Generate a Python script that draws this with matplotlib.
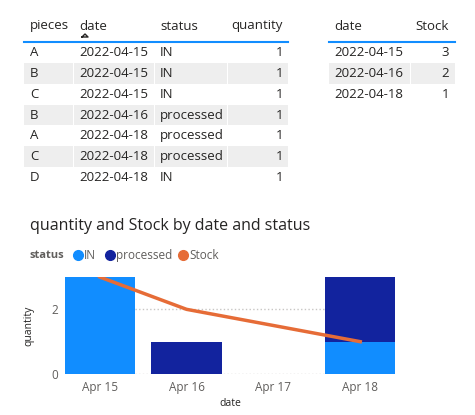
import matplotlib
matplotlib.use("Agg")
import matplotlib.pyplot as plt
from matplotlib.patches import Rectangle

plt.rcParams['font.family'] = ['Open Sans', 'DejaVu Sans']

pieces = ["A", "B", "C", "B", "A", "C", "D"]
dates = ["2022-04-15", "2022-04-15", "2022-04-15", "2022-04-16", "2022-04-18", "2022-04-18", "2022-04-18"]
statuses = ["IN", "IN", "IN", "processed", "processed", "processed", "IN"]
quantities = [1, 1, 1, 1, 1, 1, 1]

stock_dates = ["2022-04-15", "2022-04-16", "2022-04-18"]
stock_values = [3, 2, 1]

day_labels = ["Apr 15", "Apr 16", "Apr 17", "Apr 18"]
in_values = [3, 0, 0, 1]
processed_values = [0, 1, 0, 2]
stock_x = [0, 1, 3]

W, H = 475, 415
fig = plt.figure(figsize=(4.75, 4.15), dpi=100)
ov = fig.add_axes([0, 0, 1, 1])
ov.set_xlim(0, W); ov.set_ylim(H, 0); ov.axis('off')

txt = '#252423'
fs = 9.5
# table 1
ov.text(30, 26, "pieces", fontsize=fs, color=txt, va='center')
ov.text(79, 26, "date", fontsize=fs, color=txt, va='center')
ov.text(160, 26, "status", fontsize=fs, color=txt, va='center')
ov.text(283, 26, "quantity", fontsize=fs, color=txt, va='center', ha='right')
ov.plot([82, 88, 85, 82], [37, 37, 34, 37], color='#252423', lw=1)
ov.plot([24, 288], [42, 42], color='#118DFF', lw=1.5)
row_h = 20.7
for i, (p, d, s, q) in enumerate(zip(pieces, dates, statuses, quantities)):
    yc = 53 + i * row_h
    if i % 2 == 1:
        ov.add_patch(Rectangle((24, yc - row_h / 2), 264, row_h, color='#EEEEEE', lw=0))
        for xs in (73, 154, 227):
            ov.plot([xs, xs], [yc - row_h / 2, yc + row_h / 2], color='white', lw=0.8)
    ov.text(30, yc, p, fontsize=fs, color=txt, va='center')
    ov.text(79, yc, d, fontsize=fs, color=txt, va='center')
    ov.text(160, yc, s, fontsize=fs, color=txt, va='center')
    ov.text(283, yc, str(q), fontsize=fs, color='#1F4E9E' if False else txt, va='center', ha='right')
# table 2
ov.text(334, 26, "date", fontsize=fs, color=txt, va='center')
ov.text(449, 26, "Stock", fontsize=fs, color=txt, va='center', ha='right')
ov.plot([329, 455], [42, 42], color='#118DFF', lw=1.5)
for i, (d, v) in enumerate(zip(stock_dates, stock_values)):
    yc = 53 + i * row_h
    if i % 2 == 1:
        ov.add_patch(Rectangle((329, yc - row_h / 2), 126, row_h, color='#EEEEEE', lw=0))
        ov.plot([410, 410], [yc - row_h / 2, yc + row_h / 2], color='white', lw=0.8)
    ov.text(334, yc, d, fontsize=fs, color=txt, va='center')
    ov.text(449, yc, str(v), fontsize=fs, color=txt, va='center', ha='right')

# chart title & legend
ov.text(30, 226, "quantity and Stock by date and status", fontsize=11.5, color=txt, va='center')
ov.text(30, 255, "status", fontsize=8, color='#605E5C', va='center', fontweight='bold')
lx = 78
for lab, col in [("IN", '#118DFF'), ("processed", '#12239E'), ("Stock", '#E66C37')]:
    ov.plot(lx, 255, 'o', color=col, ms=7)
    t = ov.text(lx + 6, 255, lab, fontsize=8.5, color='#605E5C', va='center')
    lx += {"IN": 32, "processed": 73, "Stock": 50}[lab]

# chart
ax = fig.add_axes([65 / W, 1 - 374 / H, 330 / W, 97 / H])
x = range(len(day_labels))
ax.bar(x, in_values, width=0.81, color='#118DFF')
ax.bar(x, processed_values, bottom=in_values, width=0.81, color='#12239E')
ax.plot(stock_x, stock_values, color='#E66C37', lw=2.5, zorder=5)
ax.set_xlim(-0.4, 3.4)
ax.set_ylim(0, 3)
ax.set_yticks([0, 2])
ax.set_xticks(list(x))
ax.set_xticklabels(day_labels)
ax.tick_params(length=0, labelsize=8.5, colors='#605E5C', pad=5)
ax.yaxis.grid(True, linestyle=':', color='#C8C6C4', lw=1)
ax.set_axisbelow(True)
for s in ax.spines.values():
    s.set_visible(False)
ax.set_xlabel("date", fontsize=7.5, color='#252423', labelpad=3)
ax.set_ylabel("quantity", fontsize=7.5, color='#252423', labelpad=12)

fig.savefig("out.png", dpi=100)
